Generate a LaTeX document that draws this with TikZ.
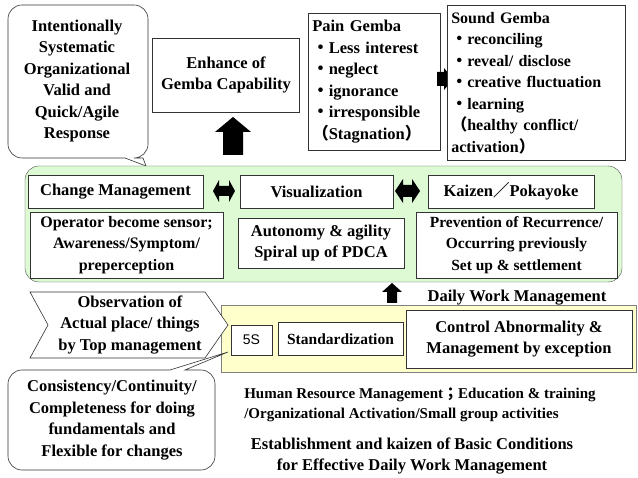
\documentclass[tikz,border=0pt]{standalone}
\usepackage{fontspec}
\setmainfont{Liberation Serif}
\newfontfamily\cjk{Noto Sans CJK JP}
\newfontfamily\sansf{Liberation Sans}
\definecolor{lgreen}{RGB}{222,250,212}
\definecolor{lyellow}{RGB}{255,255,204}
\begin{document}
\begin{tikzpicture}[x=1pt,y=-1pt,font=\bfseries\fontsize{16.5}{21.5}\selectfont]
\tikzset{
 bx/.style={draw=black!80,fill=white,align=center,inner sep=1pt,line width=0.6pt},
 lbx/.style={draw=black!80,fill=white,align=left,inner sep=4pt,line width=0.6pt},
 callout/.style={draw=black!80,fill=white,line width=0.6pt},
 blk/.style={fill=black,draw=none}
}
\useasboundingbox (0,0) rectangle (638,478);
% top-left callout
\draw[callout] (125,158) [rounded corners=14pt] -- (8,158) -- (8,5) -- (148,5) -- (148,158) [sharp corners] -- (143,158) -- (146,166) -- cycle;
\node[align=center] (tl) at (77,81) {Intentionally\\Systematic\\Organizational\\Valid and\\Quick/Agile\\Response};
% enhance
\node[bx,minimum width=147,minimum height=74] (enh) at (226,75) {Enhance of\\Gemba Capability};
\fill[blk] (223,155) -- (243,155) -- (243,132) -- (251,132) -- (233,117) -- (215,132) -- (223,132) -- cycle;
% pain
\node[lbx,minimum width=132,minimum height=137,anchor=north west,text width=124] (pain) at (308,13) {Pain Gemba\\{\cjk ・}Less interest\\{\cjk ・}neglect\\{\cjk ・}ignorance\\{\cjk ・}irresponsible\\{\cjk （}Stagnation{\cjk ）}};
\fill[blk] (437,72) -- (444,72) -- (444,68) -- (453,79) -- (444,90) -- (444,86) -- (437,86) -- cycle;
\node[lbx,minimum width=178,minimum height=155,anchor=north west,text width=170,inner sep=4pt,font=\bfseries\fontsize{16}{21.5}\selectfont] (sound) at (447,5) {Sound Gemba\\{\cjk ・}reconciling\\{\cjk ・}reveal/ disclose\\{\cjk ・}creative fluctuation\\{\cjk ・}learning\\{\cjk （}healthy conflict/\\activation{\cjk ）}};
% green area
\draw[fill=lgreen,draw=black!70,rounded corners=14pt] (25,166) rectangle (622,282);
\node[bx,minimum width=175,minimum height=33] (cm) at (115.5,191.5) {Change Management};
\node[bx,minimum width=153,minimum height=33] (vis) at (316.5,191.5) {Visualization};
\node[bx,minimum width=166,minimum height=33] (kz) at (511,191.5) {Kaizen{\cjk ／}Pokayoke};
\fill[blk] (213,191) -- (219,180) -- (219,186) -- (229,186) -- (229,180) -- (235,191) -- (229,202) -- (229,196) -- (219,196) -- (219,202) -- cycle;
\fill[blk] (395,191) -- (403,179) -- (403,185) -- (412,185) -- (412,179) -- (420,191) -- (412,203) -- (412,197) -- (403,197) -- (403,203) -- cycle;
\node[bx,minimum width=193,minimum height=66,font=\bfseries\fontsize{16}{21.5}\selectfont] (op) at (126.5,245) {Operator become sensor;\\Awareness/Symptom/\\preperception};
\node[bx,minimum width=166,minimum height=50] (aut) at (321,243) {Autonomy \& agility\\Spiral up of PDCA};
\node[bx,minimum width=201,minimum height=66,font=\bfseries\fontsize{15.5}{21.5}\selectfont] (prev) at (516.5,245) {Prevention of Recurrence/\\Occurring previously\\Set up \& settlement};
\fill[blk] (387,303) -- (397,303) -- (397,292) -- (402,292) -- (392,283) -- (382,292) -- (387,292) -- cycle;
\node (dwm) at (517,298) {Daily Work Management};
% yellow area
\draw[fill=lyellow,draw=black!50] (221,305) rectangle (636,372);
\node[bx,minimum width=41,minimum height=30,font=\sansf\fontsize{14}{16}\selectfont] (fs) at (251.5,340) {5S};
\node[bx,minimum width=125,minimum height=33,font=\bfseries\fontsize{15.5}{21.5}\selectfont] (std) at (340.5,339) {Standardization};
\node[bx,minimum width=226,minimum height=58] (ctl) at (519,339) {Control Abnormality \&\\Management by exception};
% observation shape
\draw[callout] (30,292) -- (205,292) -- (228,325) -- (205,358) -- (30,358) -- (48,325) -- cycle;
\node[align=center] (obs) at (130,325) {Observation of\\Actual place/ things\\by Top management};
% bottom-left callout
\draw[callout] (170,370) [rounded corners=14pt] -- (8,370) -- (8,470) -- (215,470) -- (215,370) [sharp corners] -- (185,370) -- (228,352) -- cycle;
\node[align=center] (cons) at (112,420) {Consistency/Continuity/\\Completeness for doing\\fundamentals and\\Flexible for changes};
% bottom texts
\node[align=left,font=\bfseries\fontsize{15}{20}\selectfont] (hr) at (420,405) {Human Resource Management{\cjk ；}Education \& training\\/Organizational Activation/Small group activities};
\node[align=center,font=\bfseries\fontsize{16.5}{21}\selectfont] (est) at (412,456) {Establishment and kaizen of Basic Conditions\\for Effective Daily Work Management};
\end{tikzpicture}
\end{document}
